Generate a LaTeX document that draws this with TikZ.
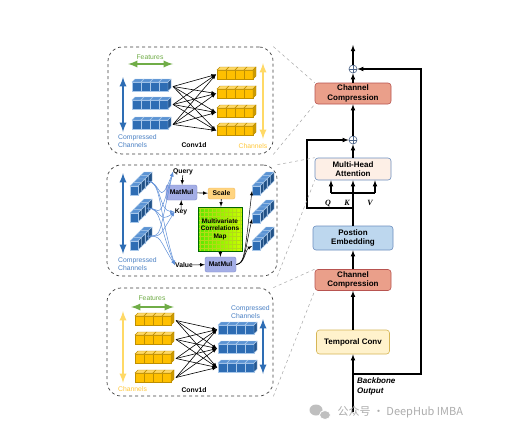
\documentclass[tikz,border=0pt]{standalone}
\usepackage{fontspec}
\setmainfont{Liberation Sans}
\newfontfamily\qkvfont{Liberation Serif}
\newfontfamily\cjkfont{Noto Sans CJK SC}
\usepackage{tikz}
\usetikzlibrary{arrows,%
                shapes}

\definecolor{cblue}{HTML}{2E6DB4}
\definecolor{cbluetop}{HTML}{5B93D3}
\definecolor{cblueedge}{HTML}{A9C8EA}
\definecolor{cbluetxt}{HTML}{4A80C4}
\definecolor{cyel}{HTML}{FFC000}
\definecolor{cyeltop}{HTML}{FFD966}
\definecolor{cyeledge}{HTML}{BF8F00}
\definecolor{cyeltxt}{HTML}{FFC83A}
\definecolor{cgreen}{HTML}{70AD47}
\definecolor{ccfill}{HTML}{EA9F8A}
\definecolor{ccdraw}{HTML}{B85450}
\definecolor{mhafill}{HTML}{FDEFE6}
\definecolor{pefill}{HTML}{BDD7EE}
\definecolor{bordblue}{HTML}{6C8EBF}
\definecolor{tcfill}{HTML}{FFF2CC}
\definecolor{tcdraw}{HTML}{D6B656}
\definecolor{mmfill}{HTML}{A4AEE6}
\definecolor{mmdraw}{HTML}{7F8CCB}
\definecolor{scfill}{HTML}{FFD480}
\definecolor{scdraw}{HTML}{F0B860}
\definecolor{curvblue}{HTML}{5E8FD8}

% row of four cubes: x, y, front, top, edge
\newcommand{\cuberow}[5]{%
  \foreach \i in {0,...,3}{
    \filldraw[fill=#3,draw=#5,line width=0.4pt] ({#1+\i*9},#2) rectangle ++(9,9);
    \filldraw[fill=#4,draw=#5,line width=0.4pt] ({#1+\i*9},#2) -- ++(3,-3) -- ++(9,0) -- ++(-3,3) -- cycle;
  }
  \filldraw[fill=#3!80!black,draw=#5,line width=0.4pt] ({#1+36},#2) -- ++(3,-3) -- ++(0,9) -- ++(-3,3) -- cycle;
}
% stack of cubes going back: x, y
\newcommand{\cubestack}[2]{%
  \foreach \k in {3,2,1,0}{
    \filldraw[fill=cbluetop,draw=cblueedge,line width=0.4pt] ({#1+\k*3.5},{#2-\k*3.5}) -- ++(3.5,-3.5) -- ++(8,0) -- ++(-3.5,3.5) -- cycle;
    \filldraw[fill=cblue!75!black,draw=cblueedge,line width=0.4pt] ({#1+8+\k*3.5},{#2-\k*3.5}) -- ++(3.5,-3.5) -- ++(0,9) -- ++(-3.5,3.5) -- cycle;
    \filldraw[fill=cblue,draw=cblueedge,line width=0.4pt] ({#1+\k*3.5},{#2-\k*3.5}) rectangle ++(8,9);
  }
}

\begin{document}
\begin{tikzpicture}[x=1pt,y=-1pt]
  \useasboundingbox[fill=white] (0,0) rectangle (518,436);
  \tikzstyle{block}=[draw,rounded corners=3pt,align=center,line width=0.6pt,
                     font=\fontsize{8}{9.5}\selectfont\bfseries,inner sep=1pt]
  \tikzstyle{ccbox}=[block,fill=ccfill,draw=ccdraw,minimum width=76pt,minimum height=21pt]
  \tikzstyle{mhabox}=[block,fill=mhafill,draw=bordblue,minimum width=76pt,minimum height=22pt]
  \tikzstyle{pebox}=[block,fill=pefill,draw=bordblue,minimum width=80pt,minimum height=24pt]
  \tikzstyle{tcbox}=[block,fill=tcfill,draw=tcdraw,minimum width=73pt,minimum height=24pt]
  \tikzstyle{sumnode}=[draw=bordblue!70!black,circle,minimum size=8pt,inner sep=0pt,line width=0.6pt]
  \tikzstyle{flow}=[line width=1.1pt,-latex]
  \tikzstyle{plain}=[line width=1.1pt]
  \tikzstyle{panel}=[draw=black!75,dashed,rounded corners=14pt,line width=0.7pt]
  \tikzstyle{zoomline}=[draw=black!35,dashed,line width=0.5pt]
  \tikzstyle{small}=[font=\fontsize{6.8}{7.8}\selectfont,inner sep=0pt,align=left]
  \tikzstyle{smallb}=[font=\fontsize{6.8}{7.8}\selectfont\bfseries,inner sep=0pt,align=center]
  \tikzstyle{mmbox}=[draw=mmdraw,fill=mmfill,rounded corners=2pt,smallb,minimum width=31pt,minimum height=15pt]
  \tikzstyle{scbox}=[draw=scdraw,fill=scfill,rounded corners=2pt,smallb,minimum width=27pt,minimum height=11pt]
  \tikzstyle{conn}=[line width=0.6pt,-latex]
  \tikzstyle{dbl}=[latex-latex,line width=2.2pt]

  % panels
  \node[panel,minimum width=165pt,minimum height=107pt] (p1) at (190.5,100.5) {};
  \node[panel,minimum width=170pt,minimum height=111pt] (p2) at (192,220.5) {};
  \node[panel,minimum width=166pt,minimum height=108pt] (p3) at (190,342) {};

  % right column
  \node[sumnode] (sum1) at (353,69) {};
  \node[ccbox] (cctop) at (353,93.5) {Channel\\Compression};
  \node[sumnode] (sum2) at (353,140) {};
  \node[mhabox] (mha) at (353,169) {Multi-Head\\Attention};
  \node[pebox] (pe) at (353,238) {Postion\\Embedding};
  \node[ccbox] (ccbot) at (353,280) {Channel\\Compression};
  \node[tcbox] (tconv) at (353,342) {Temporal Conv};
  \draw[line width=0.6pt,draw=bordblue!70!black] (sum1.north) -- (sum1.south) (sum1.west) -- (sum1.east);
  \draw[line width=0.6pt,draw=bordblue!70!black] (sum2.north) -- (sum2.south) (sum2.west) -- (sum2.east);

  \coordinate (out) at (353,45);
  \coordinate (bbin) at (353,412);
  \coordinate (bbsplit) at (353,374);
  \coordinate (fb) at (421,374);
  \coordinate (res) at (353,208);
  \coordinate (resl) at (307,208);
  \coordinate (qpt) at (331,193);
  \coordinate (vpt) at (375,193);

  \draw[flow] (sum1) -- (out);
  \draw[flow] (cctop) -- (sum1);
  \draw[flow] (sum2) -- (cctop);
  \draw[flow] (mha) -- (sum2);
  \draw[flow] (pe) -- (mha);
  \draw[plain] (qpt) -- (vpt);
  \draw[flow] (qpt) -- (qpt |- mha.south);
  \draw[flow] (vpt) -- (vpt |- mha.south);
  \draw[flow] (res) -- (resl) |- (sum2);
  \draw[flow] (ccbot) -- (pe);
  \draw[flow] (tconv) -- (ccbot);
  \draw[flow] (bbin) -- (tconv);
  \draw[flow] (bbsplit) -- (fb) |- (sum1);

  \node[font=\qkvfont\fontsize{8}{9}\selectfont\bfseries\itshape] (qlab) at (328,203) {Q};
  \node[font=\qkvfont\fontsize{8}{9}\selectfont\bfseries\itshape] (klab) at (347,203) {K};
  \node[font=\qkvfont\fontsize{8}{9}\selectfont\bfseries\itshape] (vlab) at (370,203) {V};
  \node[anchor=north west,align=left,inner sep=0pt,font=\fontsize{8}{10}\selectfont\bfseries\itshape] (bbtxt) at (357,377) {Backbone\\Output};

  % zoom lines
  \draw[zoomline] (p1.north east) -- (cctop.north west);
  \draw[zoomline] (p1.south east) -- (cctop.south west);
  \draw[zoomline] (p2.north east) -- (mha.north west);
  \draw[zoomline] (p2.south east) -- (mha.south west);
  \draw[zoomline] (p3.north east) -- (ccbot.north west);
  \draw[zoomline] (p3.south east) -- (ccbot.south west);

  % panel 1: conv1d up
  \draw[dbl,cgreen] (128,64) -- (173,64);
  \node[small,text=cgreen] (feat1) at (150,57) {Features};
  \draw[dbl,cblue] (123,77) -- (123,132);
  \foreach \y [count=\n] in {82,100,120}{
    \cuberow{132}{\y}{cblue}{cbluetop}{cblueedge}
    \coordinate (ab\n) at (173,\y+4.5);
  }
  \foreach \y [count=\n] in {70,89,108,126}{
    \cuberow{217}{\y}{cyel}{cyeltop}{cyeledge}
    \coordinate (ay\n) at (216,\y+4.5);
  }
  \foreach \a in {1,2,3}
    \foreach \b in {1,...,4}
      \draw[conn] (ab\a) -- (ay\b);
  \draw[dbl,cyeltop] (263,63) -- (263,139);
  \node[small,text=cbluetxt,anchor=west] (cc1) at (118,141) {Compressed\\Channels};
  \node[smallb] (conv1) at (194,145) {Conv1d};
  \node[small,text=cyeltxt] (ch1) at (253,146) {Channels};

  % panel 2: attention
  \draw[dbl,cblue] (123,173) -- (123,254);
  \cubestack{130}{186}
  \cubestack{130}{213}
  \cubestack{130}{241}
  \cubestack{252}{186}
  \cubestack{252}{214}
  \cubestack{252}{241}
  \node[small,text=cbluetxt,anchor=west] (cc2) at (118,264) {Compressed\\Channels};
  \node[smallb] (query) at (183,172) {Query};
  \node[smallb] (key) at (181,212) {Key};
  \node[smallb] (value) at (184,265) {Value};
  \node[mmbox] (mm1) at (181.5,192.5) {MatMul};
  \node[scbox] (scl) at (221.5,193.5) {Scale};
  \shade[left color=green!60!yellow!90!black,right color=yellow!80!green] (198,207) rectangle (242,251);
  \draw[yellow!70!green,line width=0.25pt,step=4pt] (198,207) grid (242,251);
  \node[draw=green!40!black,line width=0.4pt,minimum width=44pt,minimum height=44pt,smallb,font=\fontsize{6.5}{7.5}\selectfont\bfseries] (cmap) at (220,229) {Multivariate\\Correlations\\Map};
  \node[mmbox] (mm2) at (220.5,264.5) {MatMul};
  \draw[conn] (query) -- (mm1);
  \draw[conn] (key) -- (mm1);
  \draw[conn] (mm1) -- (scl);
  \draw[conn] (scl) -- (cmap);
  \draw[conn] (cmap) -- (mm2);
  \draw[conn] (value) -- (mm2);
  \coordinate (s1) at (147,181);
  \coordinate (s2) at (147,208);
  \coordinate (s3) at (147,236);
  \foreach \s/\sy in {s1/181,s2/208,s3/236}
    \foreach \t in {query,key,value}
      \draw[line width=0.5pt,curvblue,-latex] (\s) .. controls (162,\sy) and (158,{(\sy+240)/2}) .. (\t.west);
  \coordinate (o1) at (252,191);
  \coordinate (o2) at (252,219);
  \coordinate (o3) at (252,246);
  \foreach \o in {o1,o2,o3}
    \draw[line width=0.5pt,-latex] (mm2.east) .. controls (245,264) and (245,250) .. (\o);

  % panel 3: conv1d down
  \draw[dbl,cgreen] (131,307) -- (174,307);
  \node[small,text=cgreen] (feat3) at (152,298) {Features};
  \draw[dbl,cyeltop] (123,311) -- (123,383);
  \foreach \y [count=\n] in {316,335,354,373}{
    \cuberow{135}{\y}{cyel}{cyeltop}{cyeledge}
    \coordinate (cy\n) at (176,\y+4.5);
  }
  \foreach \y [count=\n] in {325,344,363}{
    \cuberow{218}{\y}{cblue}{cbluetop}{cblueedge}
    \coordinate (cb\n) at (217,\y+4.5);
  }
  \foreach \a in {1,...,4}
    \foreach \b in {1,2,3}
      \draw[conn] (cy\a) -- (cb\b);
  \draw[dbl,cblue] (263,319) -- (263,374);
  \node[small,text=cbluetxt,anchor=west] (cc3) at (231,312) {Compressed\\Channels};
  \node[small,text=cyeltxt,anchor=west] (ch3) at (118,389) {Channels};
  \node[smallb] (conv3) at (194,390) {Conv1d};

  % watermark
  \fill[black!25] (316,410) ellipse (6.5pt and 5.5pt);
  \fill[black!25,draw=white,line width=0.8pt] (325,415) ellipse (5.5pt and 4.5pt);
  \node[anchor=west,text=black!32,font=\cjkfont\fontsize{11}{12}\selectfont] (wm) at (334,412) {公众号 · DeepHub IMBA};
\end{tikzpicture}
\end{document}
